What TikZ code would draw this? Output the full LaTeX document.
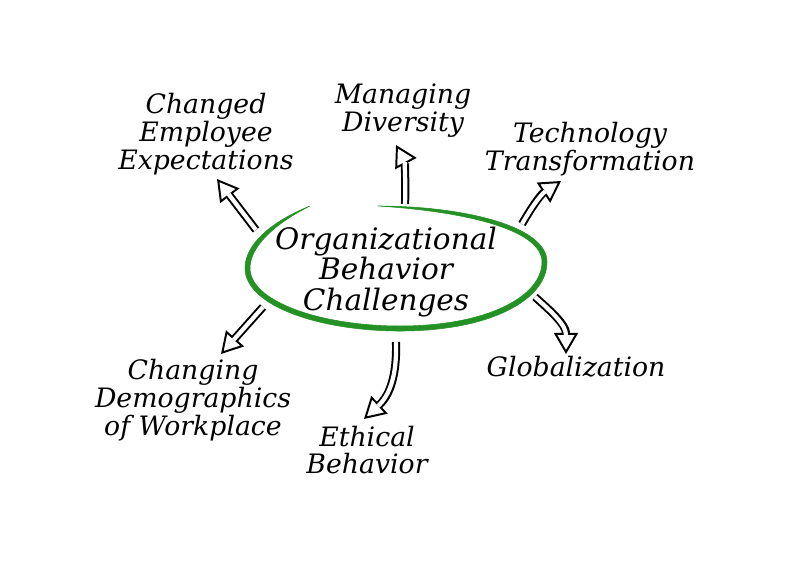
\documentclass[tikz,border=0pt]{standalone}
\usepackage{fontspec}
\setmainfont{DejaVu Serif}
\usetikzlibrary{arrows.meta}
\usetikzlibrary{positioning}

\definecolor{ringgreen}{RGB}{36,145,36}

\tikzset{
    topic/.style = {align = center, inner sep = 0pt, font = \itshape\fontsize{19}{19.8}\selectfont},
    core/.style = {align = center, inner sep = 0pt, font = \itshape\fontsize{21}{21.5}\selectfont},
    hollow/.style = {line width = 5.8pt, line cap = butt,
        -{Triangle[open, fill = white, length = 15pt, width = 17pt, line width = 1.4pt]},
        postaction = {draw = white, line width = 3pt, arrows = -, shorten > = 13.5pt}}
}

\begin{document}
\begin{tikzpicture}[x = 0.025cm, y = -0.025cm, black]

    \useasboundingbox (0,0) rectangle (800,574);

    % centre and ring
    \node[core] (Core) at (386,272) {Organizational\\Behavior\\Challenges};

    \filldraw[ringgreen, line width = 0.4pt, line join = round]
        (310,206) .. controls (270,222) and (245,245) .. (245,268)
                  .. controls (245,306) and (320,331) .. (400,331)
                  .. controls (490,331) and (547,300) .. (547,262)
                  .. controls (547,225) and (460,206) .. (378,206)
                  .. controls (458,211) and (542,228) .. (542,262)
                  .. controls (542,296) and (488,326) .. (400,326)
                  .. controls (322,326) and (250,302) .. (250,268)
                  .. controls (250,248) and (272,225) .. (310,206) -- cycle;

    % topics
    \node[topic] (Expect) at (206,134) {Changed\\Employee\\Expectations};
    \node[topic] (Divers) at (403,111) {Managing\\Diversity};
    \node[topic] (Techno) at (590,149) {Technology\\Transformation};
    \node[topic] (Demogr) at (193,400) {Changing\\Demographics\\of Workplace};
    \node[topic] (Ethics) at (367,450) {Ethical\\Behavior};
    \node[topic] (Global) at (576,367) {Globalization};

    % arrow ends
    \coordinate (ExpectTail) at (256,230);  \coordinate (ExpectTip) at (217,179);
    \coordinate (DiversTail) at (405,204);  \coordinate (DiversTip) at (396,145);
    \coordinate (TechnoTail) at (522,224);  \coordinate (TechnoTip) at (561,181);
    \coordinate (DemogrTail) at (263,307);  \coordinate (DemogrTip) at (221,354);
    \coordinate (EthicsTail) at (396,342);  \coordinate (EthicsTip) at (364,419);
    \coordinate (GlobalTail) at (535,297);  \coordinate (GlobalTip) at (566,354);

    \foreach \TOPIC in {Expect, Demogr}
        {\draw[hollow] (\TOPIC Tail) -- (\TOPIC Tip);}

    \draw[hollow] (DiversTail) .. controls (406,180) and (404,160) .. (DiversTip);
    \draw[hollow] (TechnoTail) .. controls (530,210) and (540,195) .. (TechnoTip);
    \draw[hollow] (EthicsTail) .. controls (397,375) and (390,395) .. (EthicsTip);
    \draw[hollow] (GlobalTail) .. controls (552,312) and (566,325) .. (GlobalTip);

\end{tikzpicture}
\end{document}
